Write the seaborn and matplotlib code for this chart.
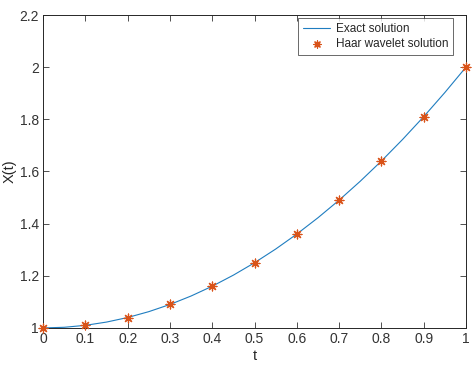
import matplotlib
matplotlib.use("Agg")
import matplotlib.pyplot as plt
import seaborn as sns
import pandas as pd

# Exact solution curve
t_exact = [0.0, 0.05, 0.1, 0.15, 0.2, 0.25, 0.3, 0.35, 0.4, 0.45, 0.5,
           0.55, 0.6, 0.65, 0.7, 0.75, 0.8, 0.85, 0.9, 0.95, 1.0]
x_exact = [1.0, 1.0025, 1.01, 1.0225, 1.04, 1.0625, 1.09, 1.1225, 1.16, 1.2025, 1.25,
           1.3025, 1.36, 1.4225, 1.49, 1.5625, 1.64, 1.7225, 1.81, 1.9025, 2.0]

# Haar wavelet solution markers
t_haar = [0.0, 0.1, 0.2, 0.3, 0.4, 0.5, 0.6, 0.7, 0.8, 0.9, 1.0]
x_haar = [1.0, 1.01, 1.04, 1.09, 1.16, 1.25, 1.36, 1.49, 1.64, 1.81, 2.0]

df_exact = pd.DataFrame({"t": t_exact, "X": x_exact})
df_haar = pd.DataFrame({"t": t_haar, "X": x_haar})

sns.set_style("ticks")
plt.rcParams['font.family'] = ['Liberation Sans', 'DejaVu Sans']

fig = plt.figure(figsize=(4.74, 3.66), dpi=100)
ax = fig.add_axes([0.091, 0.104, 0.892, 0.855])

sns.lineplot(data=df_exact, x="t", y="X", ax=ax, color="#1F7DC0",
             linewidth=0.8, label="Exact solution")
sns.scatterplot(data=df_haar, x="t", y="X", ax=ax, color="#D95319",
                marker=(8, 2, 0), s=40, linewidth=0.9, edgecolor="#D95319",
                label="Haar wavelet solution", zorder=3, clip_on=False)

ax.set_xlim(0, 1)
ax.set_ylim(1, 2.2)
ax.set_xticks([0, 0.1, 0.2, 0.3, 0.4, 0.5, 0.6, 0.7, 0.8, 0.9, 1])
ax.set_xticklabels(["0", "0.1", "0.2", "0.3", "0.4", "0.5", "0.6", "0.7", "0.8", "0.9", "1"])
ax.set_yticks([1, 1.2, 1.4, 1.6, 1.8, 2, 2.2])
ax.set_yticklabels(["1", "1.2", "1.4", "1.6", "1.8", "2", "2.2"])
ax.tick_params(direction="in", top=True, right=True, length=4, width=0.6,
               labelsize=10, colors="#333333", pad=3)
for sp in ax.spines.values():
    sp.set_visible(True)
    sp.set_linewidth(0.7)
    sp.set_color("#262626")

ax.set_xlabel("t", fontsize=10.5, color="#262626", labelpad=2)
ax.set_ylabel("X(t)", fontsize=10.5, color="#262626", labelpad=2)

leg = ax.legend(loc="upper right", bbox_to_anchor=(0.97, 0.99), fontsize=8.5,
                frameon=True, fancybox=False, edgecolor="#262626",
                handlelength=2.3, borderpad=0.4, labelspacing=0.3,
                handletextpad=0.5, borderaxespad=0.0, markerscale=0.8)
leg.get_frame().set_linewidth(0.6)

fig.savefig("out.png", dpi=100)
